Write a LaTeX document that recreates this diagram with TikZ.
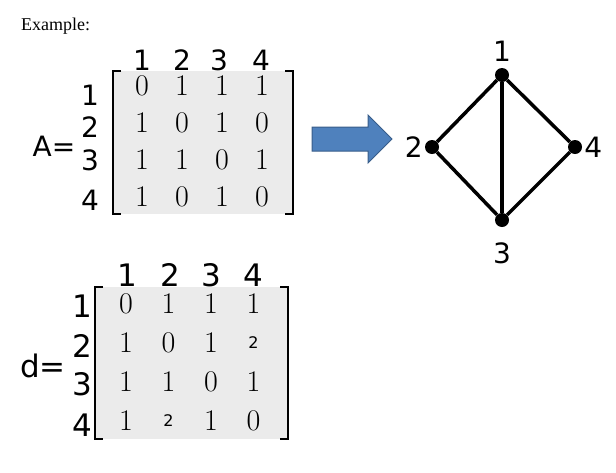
\documentclass[tikz,border=0pt]{standalone}
\usepackage{fontspec}
\newfontfamily\labfont{DejaVu Sans}
\newfontfamily\exfont{Liberation Serif}
\definecolor{matgray}{RGB}{235,235,235}
\definecolor{arrfill}{RGB}{79,129,189}
\definecolor{arrdraw}{RGB}{56,93,138}
\newcommand\dtwo{{\labfont\fontsize{16}{16}\selectfont 2}}

\begin{document}
\begin{tikzpicture}[
  x=1pt, y=-1pt,
  lab/.style={font=\labfont\fontsize{28}{28}\selectfont, inner sep=0pt},
  bigLab/.style={font=\labfont\fontsize{31}{31}\selectfont, inner sep=0pt},
  ent/.style={font=\fontsize{30}{30}\selectfont, inner sep=0pt},
  brk/.style={line width=2pt},
  vtx/.style={circle, fill=black, inner sep=0pt, minimum size=14pt},
  edge/.style={line width=3.5pt},
]
\useasboundingbox (0,0) rectangle (616,472);

\node[font=\exfont\fontsize{18}{18}\selectfont, anchor=west, inner sep=0pt] (title) at (21,26) {Example:};

% ================= adjacency matrix A =================
\fill[matgray] (113,71) rectangle (293,214);
\draw[brk] (121,71) -- (113,71) -- (113,214) -- (121,214);
\draw[brk] (285,71) -- (293,71) -- (293,214) -- (285,214);
\foreach \c/\x in {1/142,2/182,3/219,4/261}
  \node[lab] (Acol\c) at (\x,60) {\c};
\foreach \r/\y in {1/95,2/127,3/160,4/200}
  \node[lab] (Arow\r) at (90,\y) {\r};
\node[lab] (Aname) at (54,146) {A=};
\foreach \row [count=\i] in {{0,1,1,1},{1,0,1,0},{1,1,0,1},{1,0,1,0}}
  \foreach \v [count=\j] in \row
    \node[ent] (A\i\j) at ({142+40*(\j-1)},{86+37*(\i-1)}) {\v};

% ================= arrow =================
\filldraw[fill=arrfill, draw=arrdraw, line width=1pt]
  (312,127) -- (368,127) -- (368,115) -- (392,139) -- (368,163) -- (368,151) -- (312,151) -- cycle;

% ================= graph =================
\node[vtx, label={[lab, label distance=6pt]above:1}] (v1) at (502,75) {};
\node[vtx, label={[lab, label distance=2pt]left:2}] (v2) at (432,147) {};
\node[vtx, label={[lab, label distance=15pt]below:3}] (v3) at (502,220) {};
\node[vtx, label={[lab, label distance=2pt]right:4}] (v4) at (575,147) {};
\draw[edge] (v1) -- (v2);
\draw[edge] (v1) -- (v3);
\draw[edge] (v1) -- (v4);
\draw[edge] (v2) -- (v3);
\draw[edge] (v3) -- (v4);

% ================= distance matrix d =================
\fill[matgray] (95,287) rectangle (288,439);
\draw[brk] (103,287) -- (95,287) -- (95,439) -- (103,439);
\draw[brk] (280,287) -- (288,287) -- (288,439) -- (280,439);
\foreach \c/\x in {1/127,2/170,3/211,4/253}
  \node[bigLab] (dcol\c) at (\x,275) {\c};
\foreach \r/\y in {1/306,2/346,3/384,4/425}
  \node[bigLab] (drow\r) at (82,\y) {\r};
\node[bigLab] (dname) at (43,366) {d=};
\foreach \row [count=\i] in {{0,1,1,1},{1,0,1,\dtwo},{1,1,0,1},{1,\dtwo,1,0}}
  \foreach \v [count=\j] in \row
    \node[ent] (d\i\j) at ({126+42.5*(\j-1)},{304+39*(\i-1)}) {\v};

\end{tikzpicture}
\end{document}
